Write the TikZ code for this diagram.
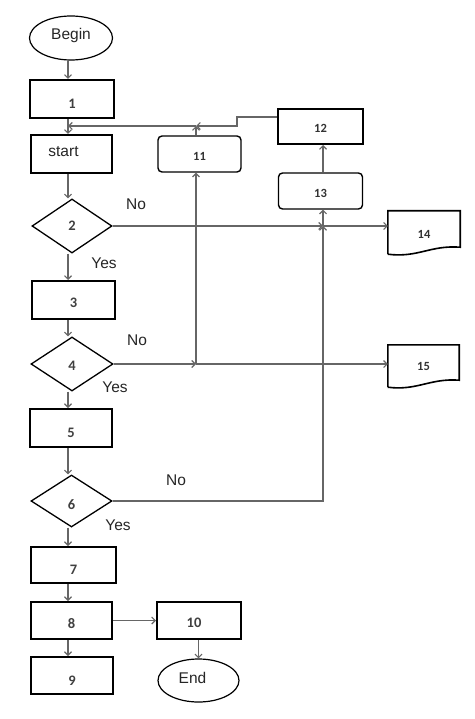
\documentclass[tikz,border=0pt]{standalone}
\usepackage{fontspec}
\setmainfont{Liberation Sans}
\newfontfamily\numfont{Carlito}
\usetikzlibrary{shapes.geometric,arrows.meta}
\begin{document}
\begin{tikzpicture}[x=1pt,y=-1pt,
  lbl/.style={font=\fontsize{15.5}{17}\selectfont, text=black!85},
  numA/.style={font=\numfont\bfseries\fontsize{14.5}{16}\selectfont, text=black!75},
  numB/.style={font=\numfont\bfseries\fontsize{12.5}{14}\selectfont, text=black!80},
  vpos/.style={text height=#1, text depth=0pt},
  sbox/.style={draw=black, line width=2pt, rectangle, inner sep=0pt},
  rbox/.style={draw=black, line width=1.4pt, rectangle, rounded corners=4pt, inner sep=0pt},
  dia/.style={draw=black, line width=1.3pt, diamond, inner sep=0pt},
  ell/.style={draw=black, line width=1.2pt, ellipse, inner sep=0pt},
  doc/.style={draw=none, rectangle, inner sep=0pt},
  conn/.style={draw=black!60, line width=1.1pt, -{Straight Barb[length=3.5pt,width=7pt]}}]
\useasboundingbox (0,0) rectangle (474,719);
\fill[white] (0,0) rectangle (474,719);

% main column
\node[ell, minimum width=83, minimum height=44, lbl, vpos=3pt] (begin) at (71,38) {Begin};
\node[sbox, minimum width=84, minimum height=38, numA, vpos=19pt] (b1) at (72,99) {1};
\node[sbox, minimum width=81, minimum height=38, lbl, vpos=6pt] (start) at (71.5,154) {\hspace*{-16pt}start};
\node[dia, minimum width=80, minimum height=54, numA] (d2) at (72,226) {2};
\node[sbox, minimum width=83, minimum height=38, numA, vpos=15pt] (b3) at (73.5,300) {3};
\node[dia, minimum width=82, minimum height=54, numA, vpos=13pt] (d4) at (72,364) {4};
\node[sbox, minimum width=82, minimum height=38, numA, vpos=19pt] (b5) at (71,428) {5};
\node[dia, minimum width=81, minimum height=52, numA, vpos=17pt] (d6) at (71.5,501) {6};
\node[sbox, minimum width=85, minimum height=36, numA, vpos=19pt] (b7) at (73.5,565) {7};
\node[sbox, minimum width=81, minimum height=37, numA, vpos=15pt] (b8) at (71.5,620.5) {8};
\node[sbox, minimum width=82, minimum height=37, numA, vpos=19pt] (b9) at (72,675.5) {9};
\node[sbox, minimum width=84, minimum height=37, numA, vpos=13pt] (b10) at (199,620.5) {\hspace*{-10pt}10};
\node[ell, minimum width=81, minimum height=43, lbl, vpos=5pt] (end) at (198.5,680.5) {\hspace*{-12pt}End};

% right part
\node[rbox, minimum width=83, minimum height=36, numB, vpos=14pt] (b11) at (199.5,154) {11};
\node[sbox, minimum width=85, minimum height=35, numB, vpos=12pt] (b12) at (320.5,126.5) {12};
\node[rbox, minimum width=84, minimum height=36, numB, vpos=12pt] (b13) at (320.5,191) {13};
\node[doc, minimum width=72, minimum height=43, numB, vpos=12pt] (d14) at (424,232.5) {14};
\node[doc, minimum width=71, minimum height=42, numB] (d15) at (423.5,366) {15};
\draw[black, line width=1.6pt] (d14.south west) -- (d14.north west) -- (d14.north east) -- ([yshift=7pt]d14.south east)
  .. controls (430,245) and (418,258) .. (d14.south west);
\draw[black, line width=1.6pt] (d15.south west) -- (d15.north west) -- (d15.north east) -- ([yshift=7pt]d15.south east)
  .. controls (430,378) and (417,391) .. (d15.south west);

% labels
\node[lbl] (no1) at (136,204) {No};
\node[lbl] (yes1) at (104,263) {Yes};
\node[lbl] (no2) at (137,340) {No};
\node[lbl] (yes2) at (115,387) {Yes};
\node[lbl] (no3) at (176,480) {No};
\node[lbl] (yes3) at (118,525) {Yes};

% coordinates
\coordinate (col) at (68,0);
\coordinate (jx) at (323,226);
\coordinate (j11) at (196,364);
\coordinate (j13) at (323,501);
\coordinate (jf) at (196,126);
\coordinate (jr1) at (237,117);
\coordinate (jr2) at (237,126);

% main column connectors
\draw[conn] (begin.south -| col) -- (b1.north -| col);
\draw[conn] (b1.south -| col) -- (start.north -| col);
\draw[conn] (start.south -| col) -- (d2.north -| col);
\draw[conn] (d2.south -| col) -- (b3.north -| col);
\draw[conn] (b3.south -| col) -- (d4.north -| col);
\draw[conn] (d4.south -| col) -- (b5.north -| col);
\draw[conn] (b5.south -| col) -- (d6.north -| col);
\draw[conn] (d6.south -| col) -- (b7.north -| col);
\draw[conn] (b7.south -| col) -- (b8.north -| col);
\draw[conn] (b8.south -| col) -- (b9.north -| col);
\draw[conn] (b8.east) -- (b10.west);
\draw[conn] (b10.south -| end.north) -- (end.north);

% branches
\draw[conn] (d2.east) -- (jx);
\draw[conn] (jx) -- (jx -| d14.west);
\draw[conn] (d6.east) -- (j13) -- (jx);
\draw[conn] (jx) -- (jx |- b13.south);
\draw[conn] (b13.north -| jx) -- (b12.south -| jx);
\draw[conn] (d4.east) -- (j11);
\draw[conn] (j11) -- (j11 -| d15.west);
\draw[conn] (j11) -- (j11 |- b11.south);
\draw[conn] (j11 |- b11.north) -- (jf);
\draw[conn] (jr1 -| b12.west) -- (jr1) -- (jr2) -- (jf);
\draw[conn] (jf) -- (jf -| col);
\end{tikzpicture}
\end{document}
